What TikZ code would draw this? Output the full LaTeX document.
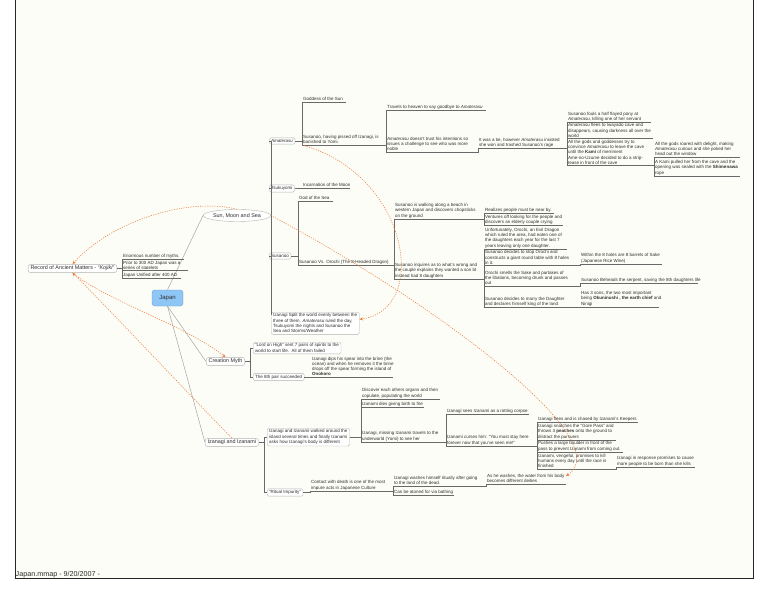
\documentclass[tikz,border=0pt]{standalone}
\usepackage{fontspec}
\setmainfont{Liberation Sans}
\usetikzlibrary{arrows.meta,shapes.geometric}
\definecolor{relc}{RGB}{236,128,62}
\definecolor{lnc}{RGB}{105,105,105}
\definecolor{bgc}{RGB}{253,253,247}
\definecolor{jpf}{RGB}{142,198,246}
\definecolor{jpd}{RGB}{96,152,215}
\definecolor{txc}{RGB}{45,45,45}
\tikzset{
  tx/.style={anchor=south west, align=left, inner xsep=1pt, inner ysep=0.8pt,
    font=\fontsize{4.5}{5.3}\selectfont, text=txc},
  ul/.style={draw=lnc, line width=0.45pt},
  cn/.style={draw=lnc, line width=0.45pt},
  bx/.style={draw=gray!60, rounded corners=1.5pt, fill=white, inner xsep=2pt,
    inner ysep=1.5pt, align=left, font=\fontsize{4.5}{5.3}\selectfont, text=txc},
  mn/.style={draw=gray!60, rounded corners=2.5pt, fill=white, inner xsep=2.5pt,
    inner ysep=1.6pt, font=\fontsize{5.4}{6}\selectfont, text=txc},
  jap/.style={draw=jpd, fill=jpf, rounded corners=3pt, minimum width=31pt,
    minimum height=16pt, inner sep=0pt, font=\fontsize{6}{7}\selectfont, text=txc},
  rel/.style={draw=relc, line width=0.55pt, dash pattern=on 1.2pt off 1.2pt,
    -{Stealth[length=3.6pt,width=3.2pt]}},
  jl/.style={draw=gray!75, line width=0.45pt}
}
\newcommand\tp[5]{%
  \node[tx] (#1) at (#2,#3) {#5};
  \coordinate (#1s) at (#2,#3);
  \coordinate (#1e) at (#2+#4,#3);
  \draw[ul] (#1s) -- (#1e);}
\begin{document}
\begin{tikzpicture}[x=1pt,y=-1pt]
\useasboundingbox (0,0) rectangle (768,594);
\fill[white] (0,0) rectangle (768,594);
\fill[bgc] (15,0) rectangle (753,578);
\draw[line width=1pt, black!85] (15,-3) -- (15,578) -- (753,578) -- (753,-3);
\node[anchor=base west, inner sep=0pt, font=\fontsize{7.2}{8}\selectfont, text=txc] (foot) at (15.5,576) {Japan.mmap - 9/20/2007 -};

% main topics
\node[mn] (koj) at (72.5,268.5) {Record of Ancient Matters - “\emph{Kojiki}”};
\node[mn, ellipse, minimum width=63pt, minimum height=12pt, inner sep=0pt] (sms) at (237,215.5) {Sun, Moon and Sea};
\node[jap] (japan) at (167.5,298) {Japan};
\node[mn, anchor=west] (cm) at (206,361.5) {Creation Myth};
\node[mn, anchor=west] (iz) at (205,442.5) {Izanagi and Izanami};

\draw[jl] (japan.north) -- (sms.west);
\draw[jl] (japan.south) -- (cm.west);
\draw[jl] (japan.south) -- (iz.west);

% Kojiki notes
\tp{k1}{122}{259}{62}{Enormous number of myths.}
\tp{k2}{122}{270.5}{66}{Prior to 300 AD Japan was a\\series of statelets}
\tp{k3}{122}{278}{59}{Japan Unified after 400 AD}
\draw[cn] (koj.east) -| (k1s);
\draw[cn] (koj.east) -| (k2s);
\draw[cn] (koj.east) -| (k3s);

% Sun, Moon and Sea
\node[bx, anchor=west] (ama) at (269,141) {\emph{Amaterasu}};
\node[bx, anchor=west] (tsu) at (269,188.5) {Tsukuyomi};
\node[bx, anchor=west] (sus) at (269,256) {Susanoo};
\node[bx, anchor=north west] (note) at (271,312) {Izanagi Split the world evenly between the\\three of them. \emph{Amaterasu} ruled the day,\\Tsukuyomi the nights and Susanoo the\\Sea and Storms/Weather};
\draw[cn] (sms.east) |- (ama.west);
\draw[cn] (sms.east) |- (tsu.west);
\draw[cn] (sms.east) |- (sus.west);
\draw[cn] (sms.east) |- ([yshift=-2pt]note.north west);

% Amaterasu branch
\tp{a1}{302}{102}{44}{Goddess of the Sun}
\tp{a2}{302}{145}{83}{Susanoo, having pissed off Izanagi, is\\banished to Yomi.}
\draw[cn] (ama.east) -| (a1s);
\draw[cn] (ama.east) -| (a2s);
\tp{a21}{386}{110.5}{100}{Travels to heaven to say goodbye to \emph{Amaterasu}}
\tp{a22}{386}{152}{91}{\emph{Amaterasu} doesn't trust his intentions so\\issues a challenge to see who was more\\noble}
\draw[cn] (a2e) -| (a21s);
\draw[cn] (a2e) -| (a22s);
\tp{a23}{478}{148.5}{89}{It was a tie, however \emph{Amaterasu} insisted\\she won and trashed Susanoo's rage}
\draw[cn] (a22e) -| (a23s);
\tp{b1}{567}{122.5}{84}{Susanoo fouls a half flayed pony at\\\emph{Amaterasu}, killing one of her servant}
\tp{b2}{567}{138.5}{86}{\emph{Amaterasu} flees to Iwayado cave and\\disappears, causing darkness all over the\\world}
\tp{b3}{567}{165.5}{86}{All the gods and goddesses try to\\convince \emph{Amaterasu} to leave the cave\\until the \textbf{Kami} of merriment\\Ame-no-Uzume decided to do a strip-\\tease in front of the cave}
\draw[cn] (a23e) -| (b1s);
\draw[cn] (a23e) -| (b2s);
\draw[cn] (a23e) -| (b3s);
\tp{c1}{654}{157}{86}{All the gods roared with delight, making\\\emph{Amaterasu} curious and she poked her\\head out the window}
\tp{c2}{654}{176}{86}{A Kami pulled her from the cave and the\\opening was sealed with the \textbf{Shimenawa}\\rope}
\draw[cn] (b3e) -| (c1s);
\draw[cn] (b3e) -| (c2s);

% Tsukuyomi
\tp{t1}{302}{188}{48}{Incarnation of the Moon}
\draw[cn] (tsu.east) -| (t1s);

% Susanoo branch
\tp{s1}{298}{201}{35}{God of the Sea}
\tp{s2}{298}{265}{94}{Susanoo Vs. Orochi (The 8-Headed Dragon)}
\draw[cn] (sus.east) -| (s1s);
\draw[cn] (sus.east) -| (s2s);
\tp{s21}{394}{219}{81}{Susanoo is walking along a beach in\\western Japan and discovers chopsticks\\on the ground}
\tp{s22}{394}{279}{83}{Susanoo inquires as to what's wrong and\\the couple explains they wanted a son bt\\instead had 8 daughters}
\draw[cn] (s2e) -| (s21s);
\draw[cn] (s2e) -| (s22s);
\tp{s211}{484}{213}{70}{Realizes people must be near by.}
\tp{s212}{484}{225.5}{79}{Ventures off looking for the people and\\discovers an elderly couple crying}
\draw[cn] (s21e) -| (s211s);
\draw[cn] (s21e) -| (s212s);
\tp{s221}{484}{249}{83}{Unfortunately, Orochi, an Evil Dragon\\which ruled the area, had eaten one of\\the daughters each year for the last 7\\years leaving only one daughter.}
\tp{s222}{484}{265.5}{86}{Susanoo decides to stop Orochi and\\constructs a giant round table with 8 holes\\in it.}
\tp{s223}{484}{286}{83}{Orochi smells the Sake and partakes of\\the libations, becoming drunk and passes\\out}
\tp{s224}{484}{307.5}{84}{Susanoo decides to marry the Daughter\\and declares himself king of the land}
\draw[cn] (s22e) -| (s221s);
\draw[cn] (s22e) -| (s222s);
\draw[cn] (s22e) -| (s223s);
\draw[cn] (s22e) -| (s224s);
\tp{s2221}{580}{264}{82}{Within the 8 holes are 8 barrels of Sake\\(Japanese Rice Wine)}
\tp{s2231}{580}{283}{118}{Susanoo Beheads the serpent, saving the 8th daughters life}
\tp{s2241}{580}{307}{79}{Has 3 sons, the two most important\\being \textbf{Okuninushi , the earth chief} and\\Ninigi}
\draw[cn] (s222e) -| (s2221s);
\draw[cn] (s223e) -| (s2231s);
\draw[cn] (s224e) -| (s2241s);

% Creation Myth
\node[bx, anchor=north west] (cm1) at (253,342) {“Lord on High” sent 7 pairs of spirits to the\\world to start life.\ \ All of them failed};
\node[bx, anchor=west] (cm2) at (253,377) {The 8th pair succeeded};
\draw[cn] (cm.east) -- ++(5,0) coordinate (cmb) |- (cm1.west);
\draw[cn] (cmb) |- (cm2.west);
\tp{cm21}{311}{377}{82}{Izanagi dips his spear into the brine (the\\ocean) and when he removes it the brine\\drops off the spear forming the island of\\\textbf{Onokoro}}
\draw[cn] (cm2.east) -| (cm21s);

% Izanagi and Izanami
\node[bx, anchor=north west] (iz1) at (267,428) {Izanagi and Izanami walked around the\\island several times and finally Izanami\\asks how Izanagi's body is different};
\node[bx, anchor=west] (iz2) at (267,492.5) {“Ritual Impurity”};
\draw[cn] (iz.east) -- ++(5,0) coordinate (izb) |- (iz1.west);
\draw[cn] (izb) |- (iz2.west);
\tp{iz11}{361}{399}{79}{Discover each others organs and then\\copulate, populating the world}
\tp{iz12}{361}{407}{63}{Izanami dies giving birth to fire}
\tp{iz13}{361}{442}{85}{Izanagi, missing Izanami travels to the\\underworld (Yomi) to see her}
\draw[cn] (iz1.east) -| (iz11s);
\draw[cn] (iz1.east) -| (iz12s);
\draw[cn] (iz1.east) -| (iz13s);
\tp{iz131}{446}{414}{83}{Izanagi sees Izanami as a rotting corpse}
\tp{iz132}{446}{446}{90}{Izanami curses him: “You must stay here\\forever now that you've seen me!”}
\draw[cn] (iz13e) -| (iz131s);
\draw[cn] (iz13e) -| (iz132s);
\tp{iz1321}{537}{422}{101}{Izanagi flees and is chased by Izanami's Keepers}
\tp{iz1322}{537}{440}{79}{Izanagi snatches the “Gore Pass” and\\throws 3 \textbf{peaches} onto the ground to\\distract the pursuers}
\tp{iz1323}{537}{452}{86}{Pushes a large boulder in front of the\\pass to prevent Izanami from coming out.}
\tp{iz1324}{537}{469}{76}{Izanami, vengeful, promises to kill\\humans every day until the race is\\finished}
\draw[cn] (iz132e) -| (iz1321s);
\draw[cn] (iz132e) -| (iz1322s);
\draw[cn] (iz132e) -| (iz1323s);
\draw[cn] (iz132e) -| (iz1324s);
\tp{iz13241}{616}{467}{79}{Izanagi in response promises to cause\\more people to be born than she kills}
\draw[cn] (iz1324e) -| (iz13241s);
\tp{iz21}{310}{491}{82}{Contact with death is one of the most\\impure acts in Japanese Culture}
\draw[cn] (iz2.east) -| (iz21s);
\tp{iz211}{393}{486}{91}{Izanagi washes himself ritually after going\\to the land of the dead.}
\tp{iz212}{393}{495}{61}{Can be atoned for via bathing}
\draw[cn] (iz21e) -| (iz211s);
\draw[cn] (iz21e) -| (iz212s);
\tp{iz2111}{486}{484}{80}{As he washes, the water from his body\\becomes different deities}
\draw[cn] (iz211e) -| (iz2111s);

% relationships
\draw[rel] (sms.north) .. controls (190,197) and (112,220) .. (koj.north);
\draw[rel] (koj.south) .. controls (105,300) and (185,325) .. (cm.north);
\draw[rel] (iz.north) .. controls (180,385) and (110,310) .. (koj.south);
\draw[rel] (a2s) .. controls (410,175) and (430,310) .. ([yshift=4pt]note.east);
\draw[rel] (sms.east) .. controls (430,300) and (620,440) .. ([yshift=8pt]iz2111e);
\end{tikzpicture}
\end{document}
